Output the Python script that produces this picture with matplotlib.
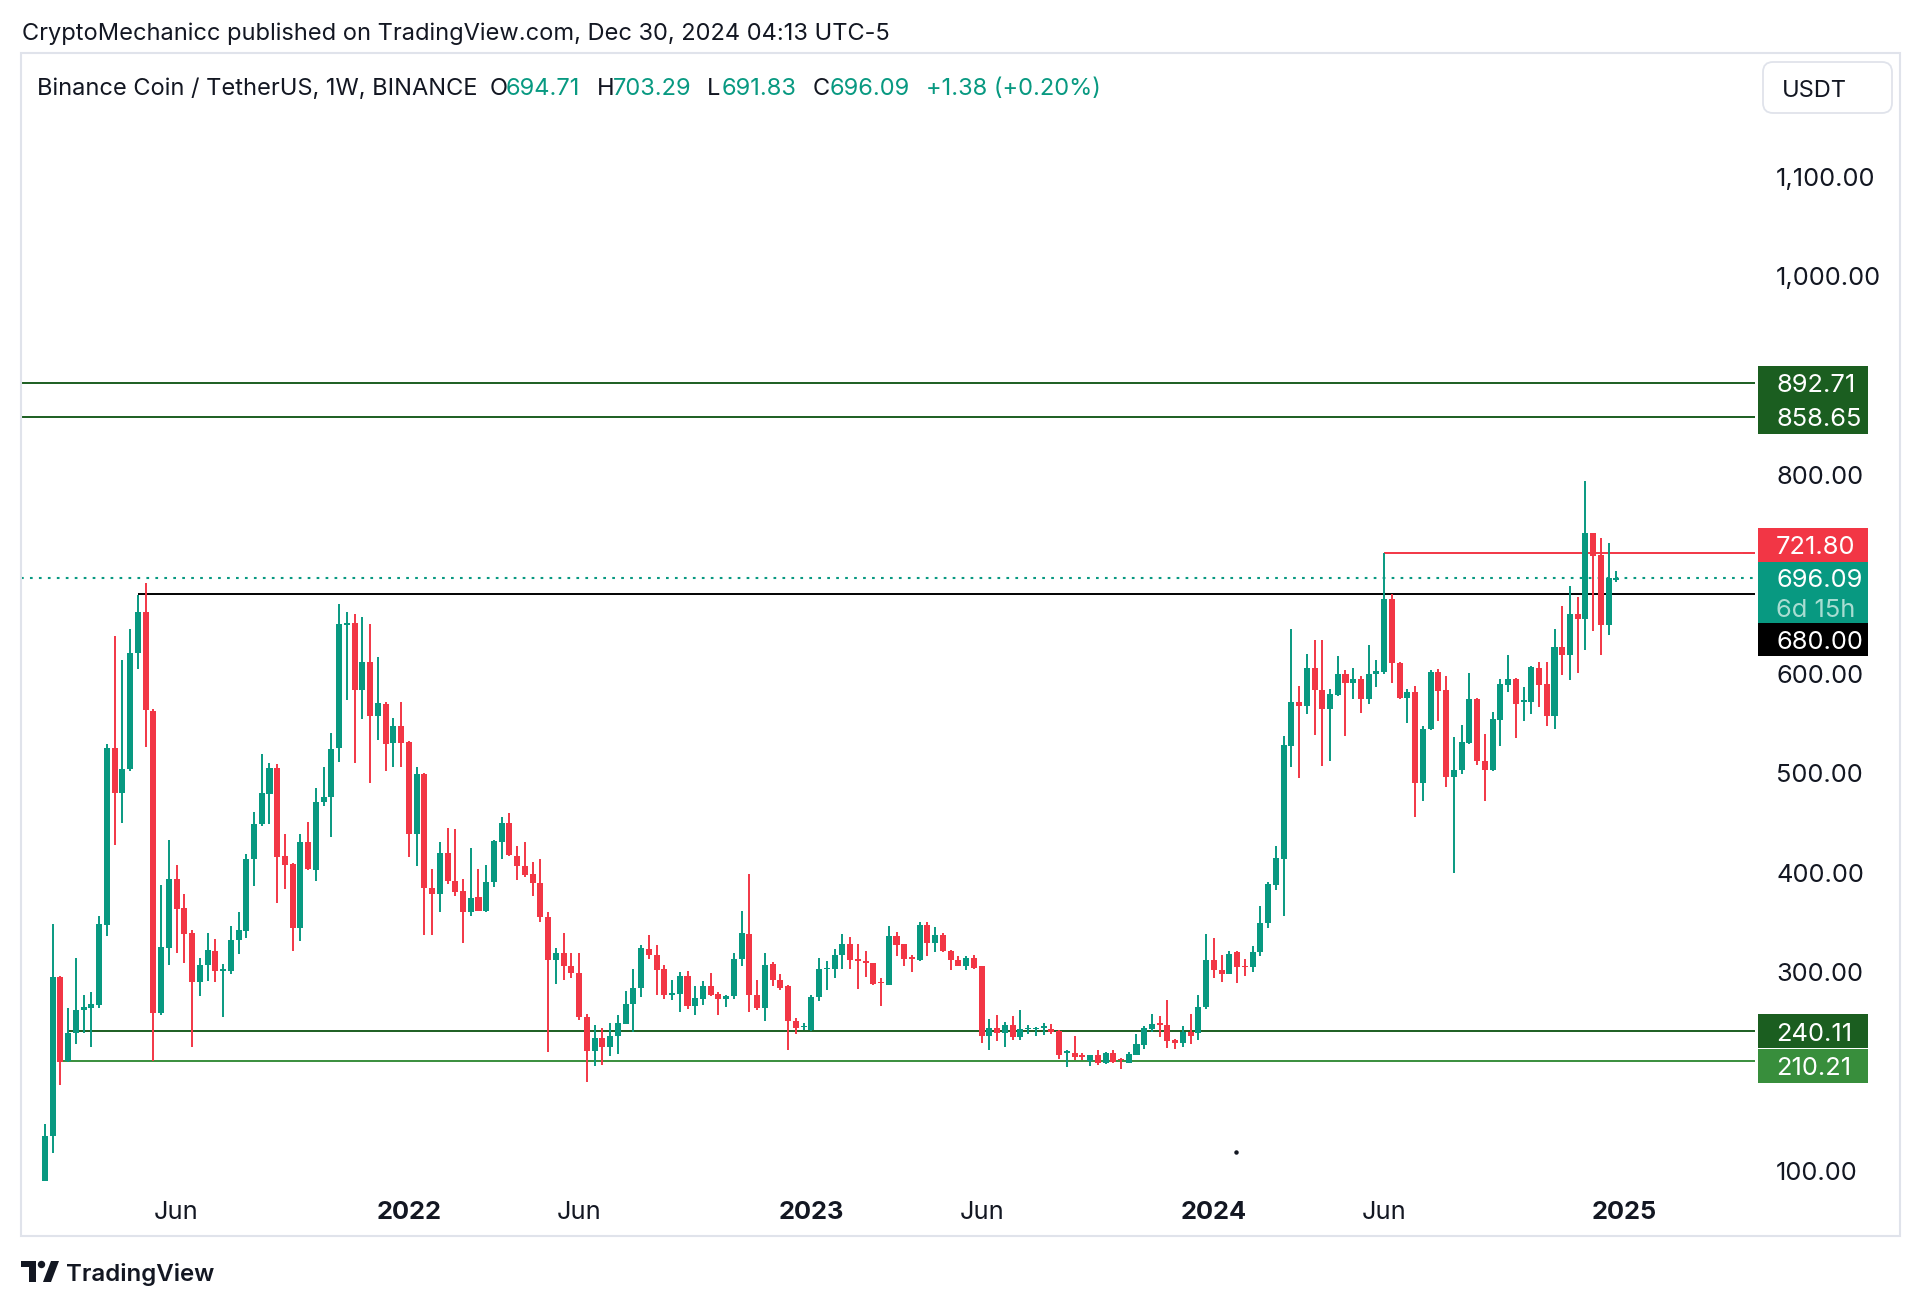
import numpy as np
import pandas as pd
import matplotlib
matplotlib.use("Agg")
import matplotlib.pyplot as plt
import matplotlib.transforms as mtransforms
from matplotlib.patches import Rectangle, FancyBboxPatch, Circle, Polygon

plt.rcParams['font.family'] = ['Inter', 'DejaVu Sans']

# weekly BNB/USDT candles, first week = 2021-02-08
opens = [71, 134.5, 294.8, 210, 239, 262, 264, 267, 347, 525, 480, 504, 621, 662, 563, 259, 324, 394, 364, 339,
         290, 307, 321, 301, 301, 332, 341, 414, 449, 479, 505, 417, 409, 344, 431, 403, 471, 476, 525, 649,
         651, 584, 611.6, 557.6, 570, 530, 547, 531, 439, 499, 384, 378, 420, 392, 381, 360, 375, 361, 391, 431,
         450, 417, 407, 399, 390, 355, 312, 319.5, 306, 299.4, 254.8, 220.6, 234, 224.6, 235.7, 248, 267.5, 283.6, 323, 317,
         302.5, 276.7, 278, 295.8, 265.6, 273.3, 285.7, 278.3, 273, 275.7, 313.2, 337.7, 277.3, 263.9, 308.5, 292.4, 285.7, 250.5, 244.8, 242.1,
         275, 303, 303, 317.2, 328.6, 313.2, 311, 308.8, 290, 287, 336.4, 328.3, 314.9, 312.2, 347.4, 329.6, 337.4, 321.3, 312.2, 305.5,
         313.9, 305.5, 235.1, 244.1, 238.4, 246.8, 234.1, 242.8, 242.8, 244.1, 242.5, 240.8, 218.3, 218.3, 216, 210.9, 216.6, 208.2, 218.3, 212.6,
         208.9, 216.6, 226.7, 242.8, 248.5, 246.8, 231.7, 228.4, 240, 238.4, 264.6, 312.2, 302.1, 298.1, 319.6, 306.2, 304.5, 319.6, 349.1, 387.7,
         413.8, 527.8, 571.4, 567.1, 605.6, 583.8, 564.7, 578.8, 599.9, 591.2, 594.9, 574.5, 599.9, 602.2, 675, 610.7, 576.1, 581.2, 490, 544.3,
         602.2, 583.8, 496, 503, 530.8, 574.4, 512.3, 503.3, 553.6, 588.8, 595.2, 572, 572, 606.2, 589.5, 557.6, 627.4, 619, 659.9, 654.8,
         742, 719.2, 648.8, 694.71]
highs = [147, 348, 296, 264, 314.4, 277.3, 280, 356.6, 529.4, 638.3, 613.9, 644.9, 679.7, 691.7, 565, 387.8, 432.4, 407.7, 378.6, 342,
         314, 339.5, 333, 307.6, 346.6, 360, 419, 461, 519, 510, 509, 438.6, 409.5, 438.6, 451, 484.8, 506.3, 540.8, 670, 662.6,
         660, 657.5, 649.8, 617.3, 572, 555, 572, 532.8, 506, 500, 403.3, 431, 445, 443.6, 394, 425.2, 403.3, 407.4, 433, 456.3,
         460.3, 427, 431, 411, 414, 360, 324, 339, 319.5, 319.5, 258, 246.6, 243.6, 248.6, 256.5, 280.8, 302.7, 327, 336.7, 327.6,
         307.5, 292.4, 299.8, 300.8, 285.7, 290.7, 298.5, 279.7, 277.3, 319.2, 361.8, 399, 292.4, 318.6, 309.9, 297.5, 286.4, 253.9, 248.8, 277.3,
         314.2, 311.5, 323.6, 337.7, 335.3, 328.6, 320.6, 308.8, 293.8, 346.4, 340.4, 328.3, 317.2, 350.4, 350.4, 345.4, 339.4, 322.3, 316.2, 315.6,
         317.2, 305.5, 252.5, 256.9, 249.2, 255.2, 261.9, 246.8, 245.1, 248.5, 247.8, 241.8, 221.7, 235.1, 218.3, 216.6, 221.7, 219.6, 221.7, 213.6,
         219.6, 237.8, 245.8, 257.9, 255.9, 271.9, 232.4, 245.8, 257.9, 277, 338.4, 334, 317.2, 321.3, 320.6, 312.9, 326.3, 366.5, 390.4, 426.9,
         537.5, 644.9, 587.9, 620, 634.1, 634.1, 584.8, 618, 604, 605.6, 597.9, 629.4, 613.9, 721.8, 680, 612.3, 584.5, 587.9, 547.6, 603.3,
         605, 597.9, 536, 548, 600.5, 576.1, 539.2, 562, 594.5, 618.6, 596.2, 587.1, 607.9, 612.3, 612.3, 644.8, 668.3, 688.4, 677.3, 793.7,
         742, 737, 731.3, 703.29]
lows = [68, 118, 186.3, 209, 228, 239, 225, 264, 336, 427.6, 449.6, 502, 604.3, 526.6, 210.2, 257, 306.8, 318.7, 309, 225,
        276, 291, 290, 254.9, 298, 317.8, 334, 386.6, 447, 449, 369.1, 383, 321, 331, 403, 392, 467, 435.9, 511, 573.7,
        510.7, 554.9, 490.5, 533.5, 502.3, 506, 506, 416, 406.7, 337.6, 337.6, 360, 388, 376, 329.6, 356.4, 361, 360, 385.6, 414,
        416.8, 392.6, 396, 376, 350, 219.6, 287.6, 292, 294, 251.8, 189.4, 205.5, 206.5, 215, 217, 247.5, 240, 275, 313, 276.7,
        273.3, 271.3, 259.6, 263.2, 257.2, 266.6, 275.7, 257.2, 264.6, 272.3, 306.5, 260.2, 262.2, 250.5, 285.7, 281.7, 221.3, 237.8, 242.1, 240.4,
        270.6, 281.7, 294, 302.5, 302.5, 283, 295.4, 286.4, 265.3, 286.4, 316.2, 306.5, 299.5, 311.2, 315.6, 319.6, 319.6, 301.5, 305.5, 301.5,
        302.8, 229, 221, 231, 225, 231.7, 231.7, 237.8, 235.1, 236.1, 237.8, 212.6, 203.9, 211.6, 211.6, 204.9, 206.6, 207.2, 208.2, 202.5,
        208.2, 216.6, 222.7, 240.1, 234.1, 224, 222.7, 225, 227.7, 231.7, 262.6, 294.4, 289.4, 298.1, 288.7, 296.1, 299.5, 315.6, 344.7, 382,
        356.8, 505.7, 495.6, 559.7, 538.6, 507.7, 512.7, 577.8, 536.9, 574.5, 560.4, 569.4, 586.5, 600, 590.5, 574.8, 550.9, 455.7, 471.5, 543.6,
        552, 486.5, 400, 499.5, 529.1, 508.3, 472.1, 502.3, 527.4, 581.7, 535.1, 552.6, 559.3, 566.7, 547.5, 544.2, 598.5, 593.8, 600.5, 623.7,
        642.8, 618.6, 638.8, 691.83]
closes = [134.5, 294.8, 209.5, 239, 262, 265, 268, 348, 525.4, 480.3, 504.2, 621.1, 661.8, 563.3, 258.9, 324.7, 393.7, 363.8, 337.9, 290,
          307.2, 322, 301, 303, 332, 342, 414, 449.3, 479.8, 505, 415.7, 408, 344, 431, 403.3, 471.4, 476.5, 524.7, 649.8, 651.5,
          583.8, 611.6, 557.6, 570.3, 529.8, 547.2, 530.8, 439.2, 498.9, 384, 378.2, 420, 392, 380.5, 360.4, 374.8, 361.4, 391, 431.8, 450.3,
          417.4, 406.7, 397.6, 389.3, 355.4, 312.1, 319.5, 306, 299.4, 254.8, 220.6, 234, 224.6, 235.7, 248.4, 267.5, 283.6, 323.9, 317, 302,
          276.7, 279, 295.8, 265.6, 274, 285.7, 277.3, 273, 276.3, 313.2, 338.7, 276.7, 263.9, 307.5, 291.7, 284, 250.5, 243.8, 246.1, 275,
          302.5, 304, 317.2, 328.6, 311.9, 311.2, 308.8, 288, 288.7, 336.4, 327.3, 313.2, 313.2, 347.4, 329.6, 337.4, 320.6, 312.2, 305.5, 313.9,
          303.8, 235.1, 244.1, 238.4, 246.8, 234.1, 242.8, 244.1, 244.1, 245.1, 239.5, 216, 220, 214, 214.3, 216.6, 208.2, 218.3, 209.2, 211.6,
          217.6, 227.7, 243.5, 247.8, 246.8, 231, 228.4, 239.4, 236, 264.6, 312.2, 301.5, 298.1, 318.2, 304.5, 304.5, 319.9, 349.1, 388.7, 414.5,
          528.5, 571.4, 567.1, 605.6, 583.2, 564.7, 579.5, 599.9, 591.2, 594.9, 574.5, 599.9, 602.9, 675, 610.7, 576.1, 581.2, 490, 544.3, 602.2,
          583, 496, 503.5, 531.8, 574.4, 512.3, 503.3, 554.3, 589.5, 595.2, 569.3, 573.7, 606.9, 588.8, 557.6, 627.4, 619, 659.9, 654.8, 742,
          718.6, 648.8, 696.8, 696.09]

start_week = '2021-02-08'
# horizontal levels: (price, first candle index, colour)
levels = [(892.71, None, '#1B5E20'), (858.65, None, '#1B5E20'), (721.80, 173, '#F23645'),
          (680.00, 12, '#000000'), (240.11, 3, '#1B5E20'), (210.21, 2, '#388E3C')]
last_price = 696.09
countdown = '6d 15h'
price_ticks = [100, 300, 400, 500, 600, 800, 1000, 1100]
stray_dot = (153.8, 118.6)

UP = '#089981'
DOWN = '#F23645'
TXT = '#131722'
W, H = 1920, 1306
CAP = 0.727  # cap height of Inter, in em

def ix(px):
    return px / 100.0

def iy(py):
    return (H - py) / 100.0

fig = plt.figure(figsize=(W / 100, H / 100), dpi=100)
fig.patch.set_facecolor('white')
FT = fig.dpi_scale_trans

def ctext(target, x, y, s, size, transform, **kw):
    # vertically centre on the cap height, as the screenshot does
    tr = mtransforms.offset_copy(transform, fig=fig, y=-CAP * size / 2, units='points')
    return target.text(x, y, s, transform=tr, va='baseline', fontsize=size, **kw)

# chart frame
fig.add_artist(Rectangle((ix(21), iy(1236)), ix(1900) - ix(21), iy(53) - iy(1236), transform=FT,
                         fill=False, edgecolor='#E0E3EB', lw=1.5))

ax = fig.add_axes([21 / W, 1 - 1181 / H, (1755 - 21) / W, (1181 - 54) / H])
ymin, ymax = 89.7, 1223.5
xmin, xmax = -3.1, 220.9
ax.set_xlim(xmin, xmax)
ax.set_ylim(ymin, ymax)
for s in ax.spines.values():
    s.set_visible(False)
ax.set_xticks([])
ax.set_yticks([])
ppu = (1181 - 54) / (ymax - ymin)   # pixels per price unit

o = np.array(opens); hi = np.array(highs); lo = np.array(lows); c = np.array(closes)
n = len(o)
x = np.arange(n)
cols = np.where(c >= o, UP, DOWN)
bottom = np.minimum(o, c)
height = np.maximum(np.abs(c - o), 1.3)
ax.vlines(x, lo, hi, colors=cols, lw=1.4, zorder=3)
ax.bar(x, height, bottom=bottom, width=0.78, color=cols, linewidth=0, zorder=4)

# levels
for val, start, col in levels:
    if start is None:
        ax.axhline(val, color=col, lw=1.4, zorder=2)
    else:
        ax.hlines(val, start, xmax, color=col, lw=1.4, zorder=2)
ax.axhline(last_price, color=UP, lw=1.5, linestyle=(0, (1.3, 3)), zorder=2)
ax.plot(*stray_dot, marker='o', ms=2.2, color=TXT)

# price tags on the right axis
trans = mtransforms.blended_transform_factory(fig.transFigure, ax.transData)
tx0, tx1, txl = 1758 / W, 1868 / W, 1776 / W
LBL = 18.3

def tag(val, label, col, dy_px=0.0, h_px=34.0):
    cy = val + dy_px / ppu
    hh = h_px / ppu
    ax.add_patch(Rectangle((tx0, cy - hh / 2), tx1 - tx0, hh, transform=trans, color=col,
                           clip_on=False, zorder=5, lw=0))
    ctext(ax, txl, cy, label, LBL, trans, ha='left', color='white', clip_on=False, zorder=6)

offsets = {892.71: 0, 858.65: 0, 721.80: 7.6, 680.00: -45.2, 240.11: 0, 210.21: -4.4}
for val, start, col in levels:
    tag(val, f'{val:.2f}', col, offsets[val])

# last price tag with countdown (two lines)
top = last_price + 16.6 / ppu
bot = last_price - 45.0 / ppu
ax.add_patch(Rectangle((tx0, bot), tx1 - tx0, top - bot, transform=trans, color=UP,
                       clip_on=False, zorder=5, lw=0))
ctext(ax, txl, last_price, f'{last_price:.2f}', LBL, trans, ha='left', color='white',
      clip_on=False, zorder=6)
ctext(ax, txl, last_price - 30 / ppu, countdown, LBL, trans, ha='left', color='#A9DDD2',
      clip_on=False, zorder=6)

for p in price_ticks:
    ctext(ax, txl, p, f'{p:,.2f}', LBL, trans, ha='left', color=TXT, clip_on=False)

# time axis
weeks = pd.date_range(start_week, periods=221, freq='W-MON')
ttrans = mtransforms.blended_transform_factory(ax.transData, fig.transFigure)
for i in range(1, len(weeks)):
    d, prev = weeks[i], weeks[i - 1]
    if d.month != prev.month and d.month in (1, 6) and i <= xmax:
        if d.month == 1:
            ctext(ax, i, 1 - 1210 / H, str(d.year), LBL, ttrans, ha='center',
                  fontweight='bold', color=TXT, clip_on=False)
        else:
            ctext(ax, i, 1 - 1210 / H, d.strftime('%b'), LBL, ttrans, ha='center',
                  color=TXT, clip_on=False)

# header and legend
ctext(fig, ix(22), iy(31), 'CryptoMechanicc published on TradingView.com, Dec 30, 2024 04:13 UTC-5',
      17, FT, color=TXT)
ctext(fig, ix(37), iy(86), 'Binance Coin / TetherUS, 1W, BINANCE', 17, FT, color=TXT)
legend_parts = [(490, 'O', TXT), (506, f'{opens[-1]:.2f}', UP), (597, 'H', TXT), (613, f'{highs[-1]:.2f}', UP),
                (707, 'L', TXT), (722, f'{lows[-1]:.2f}', UP), (813, 'C', TXT), (830, f'{closes[-1]:.2f}', UP),
                (926, '+1.38 (+0.20%)', UP)]
for px, s, col in legend_parts:
    ctext(fig, ix(px), iy(86), s, 17, FT, color=col)

# currency button
fig.add_artist(FancyBboxPatch((ix(1763), iy(113)), ix(1892) - ix(1763), iy(62) - iy(113),
                              boxstyle='round,pad=0,rounding_size=0.1', transform=FT,
                              facecolor='white', edgecolor='#E0E3EB', lw=1.3))
ctext(fig, ix(1782), iy(88), 'USDT', 17, FT, color=TXT)

# TradingView logo
fig.add_artist(Rectangle((ix(21), iy(1267)), ix(36) - ix(21), ix(6), transform=FT, color=TXT, lw=0))
fig.add_artist(Rectangle((ix(29), iy(1282)), ix(7), iy(1261) - iy(1282), transform=FT, color=TXT, lw=0))
fig.add_artist(Circle((ix(41.5), iy(1264.5)), 0.037, transform=FT, color=TXT, lw=0))
fig.add_artist(Polygon([(ix(43), iy(1282)), (ix(51), iy(1261)), (ix(59), iy(1261)), (ix(51), iy(1282))],
                       closed=True, transform=FT, color=TXT, lw=0))
ctext(fig, ix(66), iy(1272), 'TradingView', 17.3, FT, fontweight='semibold', color=TXT)

fig.savefig('out.png', dpi=100)
